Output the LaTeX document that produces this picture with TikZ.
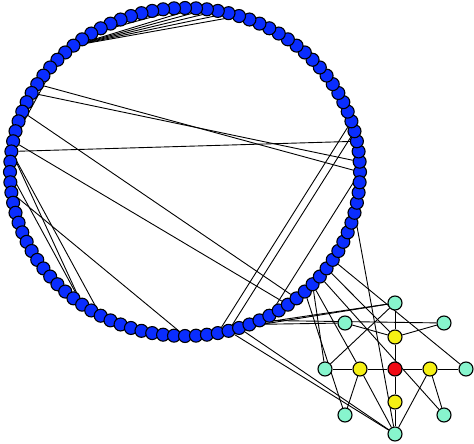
\documentclass[tikz,border=0pt]{standalone}
\usetikzlibrary{backgrounds}
\definecolor{ringblue}{RGB}{10,45,255}
\definecolor{aqua}{RGB}{135,245,205}
\definecolor{yel}{RGB}{245,240,20}
\definecolor{hub}{RGB}{240,10,20}
\begin{document}
\begin{tikzpicture}[x=1pt,y=-1pt]
  \tikzstyle{vtx}=[circle,draw=black,line width=1.1pt,inner sep=0pt,minimum size=13pt]
  \tikzstyle{ringv}=[vtx,fill=ringblue]
  \tikzstyle{outv}=[vtx,fill=aqua,minimum size=14pt]
  \tikzstyle{midv}=[vtx,fill=yel,minimum size=14pt]
  \tikzstyle{hubv}=[vtx,fill=hub,minimum size=14pt]
  \tikzstyle{edge}=[black,line width=0.9pt]
  \useasboundingbox (0,0) rectangle (474,444);
  % ring of 100 vertices
  \foreach \k in {0,...,99}
    \node[ringv] (r\k) at ({185+175*cos(3.6*\k)},{172-164*sin(3.6*\k)}) {};
  % small cluster
  \node[hubv] (c) at (395,369) {};
  \node[midv] (yT) at (395,337) {};
  \node[midv] (yL) at (360,369) {};
  \node[midv] (yR) at (430,369) {};
  \node[midv] (yB) at (395,402) {};
  \node[outv] (aT) at (395,303) {};
  \node[outv] (aLT) at (345,323) {};
  \node[outv] (aRT) at (444,323) {};
  \node[outv] (aL) at (325,369) {};
  \node[outv] (aR) at (466,369) {};
  \node[outv] (aBL) at (345,415) {};
  \node[outv] (aBR) at (444,415) {};
  \node[outv] (aB) at (395,434) {};
  \begin{pgfonlayer}{background}
    % chords of the ring
    \foreach \a/\b in {36/20,36/21,36/22,36/23,36/24,34/25,38/47,41/0,42/1,48/3,
                       48/65,48/67,50/65,52/75,44/86,47/85,5/78,4/79,0/83}
      \draw[edge] (r\a) -- (r\b);
    % ring to cluster
    \foreach \a/\b in {79/aB,80/aB,80/aT,81/aT,81/aLT,82/aRT,87/aBL,88/aL,
                       88/yL,89/aBR,91/aR,90/yT,96/aB}
      \draw[edge] (r\a) -- (\b);
    % inside the cluster
    \foreach \a/\b in {aT/yT,yT/c,c/yB,yB/aB,aL/yL,yL/c,c/yR,yR/aR,aLT/yT,
                       yT/aRT,aT/aL,yL/aBL,yL/aB,yR/aB,yR/aBR}
      \draw[edge] (\a) -- (\b);
  \end{pgfonlayer}
\end{tikzpicture}
\end{document}
